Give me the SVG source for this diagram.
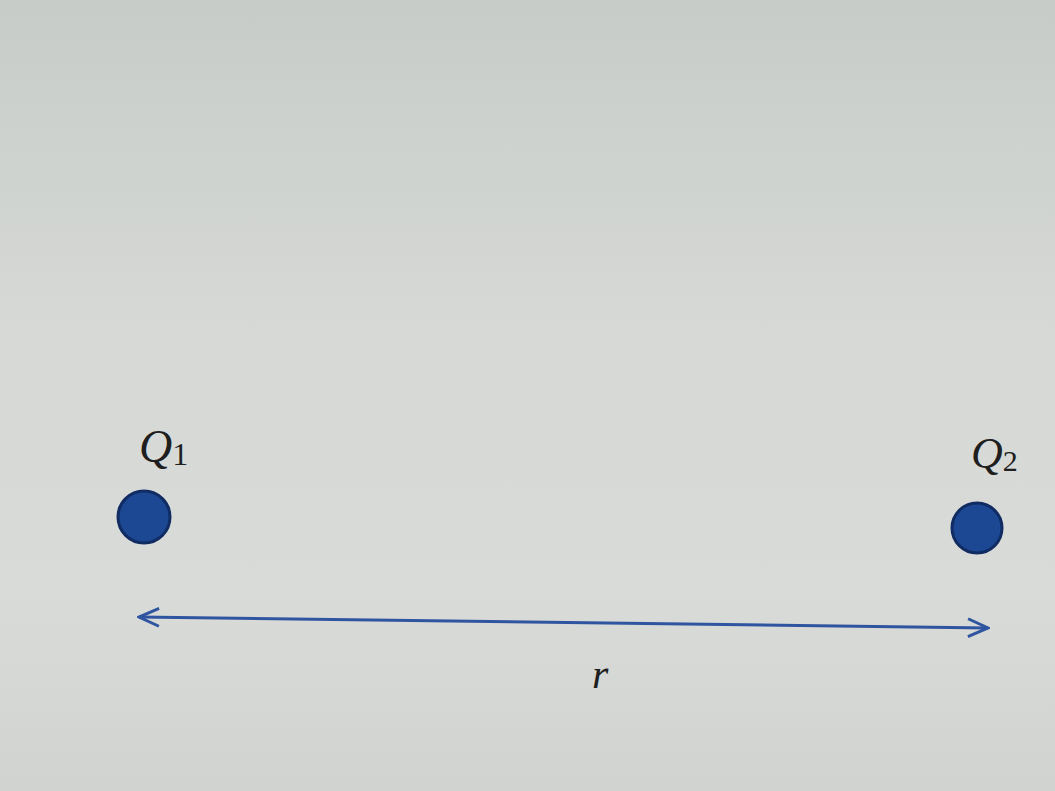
<svg xmlns="http://www.w3.org/2000/svg" width="1055" height="791" viewBox="0 0 1055 791">
<defs>
<linearGradient id="bg" x1="0" y1="0" x2="0" y2="1">
<stop offset="0" stop-color="#c8ccc9"/>
<stop offset="0.4" stop-color="#d5d8d5"/>
<stop offset="0.75" stop-color="#d9dbd8"/>
<stop offset="1" stop-color="#d0d3d0"/>
</linearGradient>
<marker id="ah2" viewBox="0 0 24 24" refX="22" refY="12" markerWidth="24" markerHeight="24" markerUnits="userSpaceOnUse" orient="auto-start-reverse">
<path d="M2,3 L22,12 L2,21" fill="none" stroke="#2f55a0" stroke-width="3"/>
</marker>
</defs>
<style>
.charge{fill:#1c4893;stroke:#102c62;stroke-width:3}
.lbl{font-family:"Liberation Serif",serif;fill:#1e1e1e;}
.it{font-style:italic}
</style>
<rect width="1055" height="791" fill="url(#bg)"/>
<g id="connectors">
<line x1="139" y1="617" x2="988" y2="628" stroke="#2f55a0" stroke-width="3" marker-start="url(#ah2)" marker-end="url(#ah2)"/>
</g>
<g id="q1">
<circle class="charge" cx="144" cy="517" r="26"/>
<text class="lbl" x="139" y="462" font-size="46"><tspan class="it">Q</tspan><tspan font-size="32" dy="3">1</tspan></text>
</g>
<g id="q2">
<circle class="charge" cx="977" cy="528" r="25"/>
<text class="lbl" x="971" y="468" font-size="44"><tspan class="it">Q</tspan><tspan font-size="30" dy="3">2</tspan></text>
</g>
<g id="r">
<text class="lbl it" x="592" y="688" font-size="42">r</text>
</g>
</svg>
